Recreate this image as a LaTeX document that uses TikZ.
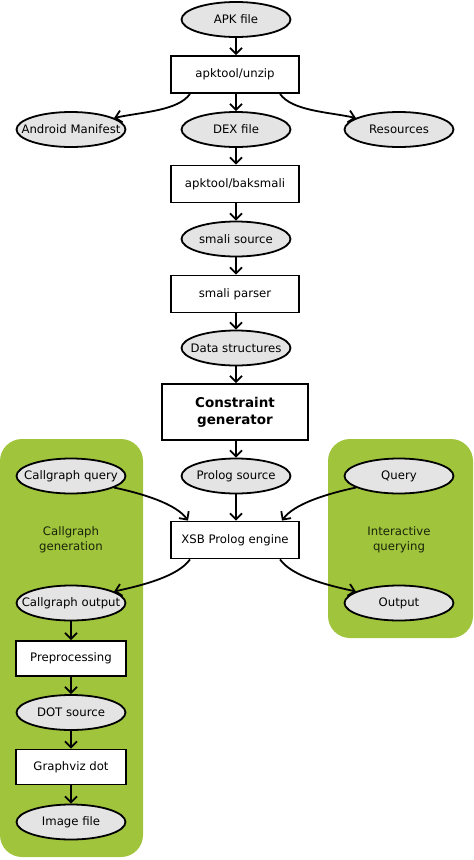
\documentclass[tikz,border=0pt]{standalone}
\usepackage{fontspec}
\setmainfont{DejaVu Sans}
\usetikzlibrary{shapes.geometric,arrows.meta}
\definecolor{panelgreen}{HTML}{A0C43C}
\definecolor{ellgray}{HTML}{E4E4E4}
\definecolor{labeltext}{HTML}{18240A}
\newcommand{\zw}[1]{\makebox[0pt][c]{#1}}
\tikzset{
  ell/.style={ellipse, draw=black, line width=1.8pt, fill=ellgray, minimum width=109pt, minimum height=35pt, inner sep=0pt, font=\fontsize{11.7}{13}\selectfont},
  procbox/.style={rectangle, draw=black, line width=1.8pt, fill=white, minimum width=128pt, minimum height=37pt, inner sep=0pt, font=\fontsize{11.7}{13}\selectfont},
  smallbox/.style={procbox, minimum width=110pt, minimum height=35pt},
  arr/.style={-{Straight Barb[length=6pt,width=12pt,line width=1.8pt]}, line width=1.8pt},
  panel/.style={fill=panelgreen, draw=none, rounded corners=22pt},
  paneltext/.style={align=center, text=labeltext, font=\fontsize{11.7}{15}\selectfont}
}
\begin{document}
\begin{tikzpicture}[x=1pt,y=-1pt]
\useasboundingbox (0,0) rectangle (474,860);
% panels
\path[panel] (0,439) rectangle (143,857);
\path[panel] (328,439) rectangle (473,638);
\node[paneltext] (cglabel) at (71,540) {Callgraph\\generation};
\node[paneltext] (iqlabel) at (399,540) {Interactive\\querying};

% nodes
\node[ell] (apk) at (236,19.5) {\zw{APK file}};
\node[procbox] (unzip) at (235,74.5) {apktool/unzip};
\node[ell] (manifest) at (71,129.5) {\zw{Android Manifest}};
\node[ell] (dex) at (236,129.5) {\zw{DEX file}};
\node[ell] (res) at (399,129.5) {\zw{Resources}};
\node[procbox] (baksmali) at (235,184) {apktool/baksmali};
\node[ell] (smali) at (236,239) {\zw{smali source}};
\node[procbox] (parser) at (235,294) {smali parser};
\node[ell] (data) at (236,348) {\zw{Data structures}};
\node[procbox, minimum width=146pt, minimum height=56pt, align=center, font=\fontsize{13.5}{17}\selectfont\bfseries] (cons) at (235,412) {Constraint\\generator};
\node[ell] (prolog) at (236,476) {\zw{Prolog source}};
\node[ell] (cgq) at (71,476) {\zw{Callgraph query}};
\node[ell] (query) at (399,476) {\zw{Query}};
\node[procbox] (xsb) at (235,540) {XSB Prolog engine};
\node[ell] (cgo) at (71,603) {\zw{Callgraph output}};
\node[ell] (out) at (399,603) {\zw{Output}};
\node[smallbox] (pre) at (71,658.5) {Preprocessing};
\node[ell] (dot) at (71,712.5) {\zw{DOT source}};
\node[smallbox] (gv) at (71,767) {Graphviz dot};
\node[ell] (img) at (71,822) {\zw{Image file}};

% straight arrows
\draw[arr] (apk) -- (apk |- unzip.north);
\draw[arr] (unzip.south -| dex) -- (dex);
\draw[arr] (dex) -- (dex |- baksmali.north);
\draw[arr] (baksmali.south -| smali) -- (smali);
\draw[arr] (smali) -- (smali |- parser.north);
\draw[arr] (parser.south -| data) -- (data);
\draw[arr] (data) -- (data |- cons.north);
\draw[arr] (cons.south -| prolog) -- (prolog);
\draw[arr] (prolog) -- (prolog |- xsb.north);
\draw[arr] (cgo) -- (pre);
\draw[arr] (pre) -- (dot);
\draw[arr] (dot) -- (gv);
\draw[arr] (gv) -- (img);

% curved arrows
\draw[arr] ([xshift=-45pt]unzip.south) .. controls +(-12,17) and +(28,-6) .. (manifest.15);
\draw[arr] ([xshift=45pt]unzip.south) .. controls +(12,17) and +(-28,-6) .. (res.165);
\draw[arr] (cgq.-15) .. controls +(28,6) and +(-12,-17) .. ([xshift=-47pt]xsb.north);
\draw[arr] (query.-165) .. controls +(-28,6) and +(12,-17) .. ([xshift=47pt]xsb.north);
\draw[arr] ([xshift=-45pt]xsb.south) .. controls +(-12,17) and +(28,-6) .. (cgo.15);
\draw[arr] ([xshift=45pt]xsb.south) .. controls +(12,17) and +(-28,-6) .. (out.165);
\end{tikzpicture}
\end{document}
